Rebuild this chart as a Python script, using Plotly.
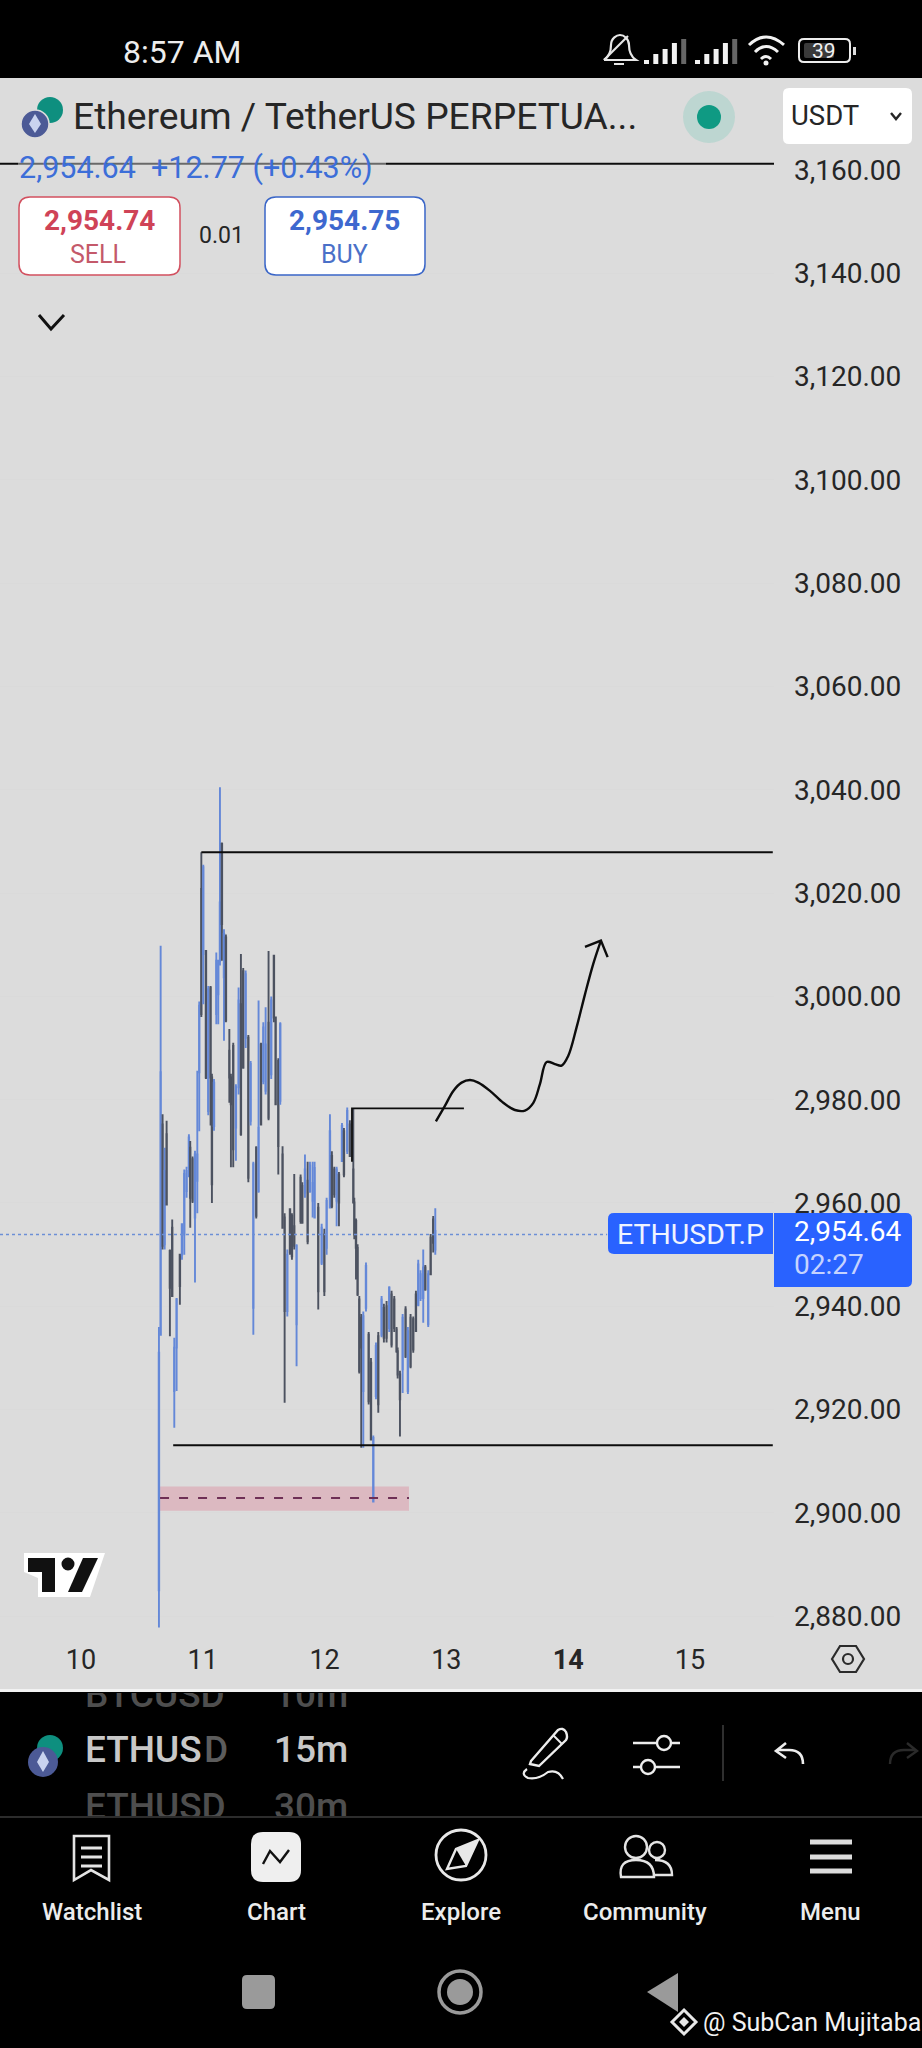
import re
import plotly.graph_objects as go

# ---------- candle data (day of month, OHLC) ----------
days = [10.640,10.654,10.670,10.687,10.703,10.730,10.749,10.766,10.785,10.812,10.829,10.848,10.867,10.886,10.897,10.916,10.936,10.955,10.971,10.988,
        11.004,11.026,11.045,11.064,11.075,11.092,11.111,11.127,11.141,11.157,11.174,11.190,11.218,11.231,11.250,11.272,11.294,11.313,11.332,11.352,
        11.374,11.393,11.415,11.439,11.458,11.478,11.497,11.516,11.540,11.562,11.584,11.598,11.620,11.636,11.655,11.672,11.694,11.716,11.732,11.751,
        11.770,11.803,11.817,11.839,11.861,11.880,11.902,11.918,11.948,11.976,11.998,12.017,12.044,12.060,12.080,12.099,12.118,12.143,12.159,12.186,
        12.208,12.236,12.244,12.258,12.271,12.285,12.301,12.318,12.340,12.362,12.381,12.400,12.422,12.441,12.468,12.487,12.509,12.531,12.550,12.572,
        12.591,12.600,12.619,12.641,12.665,12.684,12.706,12.728,12.750,12.769,12.788,12.810,12.827,12.851,12.871,12.892,12.909]
opens = [2885.0,2934.5,2975.2,2952.0,2973.3,2950.7,2955.2,2923.6,2932.0,2950.0,2950.0,2953.9,2962.3,2966.8,2970.7,2968.5,2957.2,2964.3,2985.3,3020.8,
         3008.2,3008.8,2977.8,3001.7,2984.3,2974.9,2996.6,3000.4,3006.9,3029.5,3003.7,3011.4,2989.5,2984.3,2990.4,2974.6,2982.4,2998.5,3004.9,2992.0,
         2992.0,2975.9,2939.7,2970.7,2962.3,2990.7,2983.6,2981.7,2994.9,2984.9,3007.9,2995.9,2987.5,2979.8,2969.4,2957.2,2939.1,2958.8,2957.5,2955.5,
         2936.5,2964.9,2963.3,2962.0,2964.3,2962.3,2960.4,2957.2,2959.1,2948.4,2953.9,2951.3,2959.1,2969.1,2966.5,2960.4,2965.5,2968.1,2973.9,2970.1,
         2975.2,2966.5,2960.1,2956.5,2951.3,2941.3,2937.8,2923.6,2939.7,2934.5,2929.1,2902.2,2922.6,2934.2,2934.5,2939.7,2940.0,2935.8,2942.3,2941.3,
         2935.5,2931.3,2926.8,2927.8,2939.4,2923.6,2937.8,2937.5,2942.3,2940.3,2941.6,2941.6,2947.5,2936.5,2953.3,2956.8,2951.0]
highs = [2936.0,3009.8,2977.2,2970.7,2975.9,2951.0,2956.8,2933.9,2941.6,2950.0,2956.0,2966.5,2967.0,2973.3,2972.0,2969.0,2970.1,2985.6,2999.0,3027.9,
         3025.5,3009.0,3002.0,3002.0,2985.0,2984.0,3008.5,3007.0,3040.5,3029.8,3013.0,3012.0,2993.7,2985.0,2991.0,2983.0,3001.7,3008.2,3005.5,3005.0,
         2992.5,2987.5,2968.0,2971.0,2999.2,2991.0,2995.0,2997.9,3008.8,3000.0,3008.0,2996.0,2988.0,2995.0,2971.0,2958.0,2951.0,2959.0,2958.0,2965.6,
         2952.0,2965.5,2964.0,2969.4,2968.0,2968.0,2968.0,2968.0,2960.0,2956.0,2955.0,2961.0,2977.2,2970.0,2967.0,2967.0,2966.0,2975.5,2974.5,2978.5,
         2976.0,2978.3,2961.0,2957.0,2952.0,2942.0,2938.5,2939.0,2948.5,2935.0,2930.0,2915.0,2933.0,2935.0,2942.0,2940.5,2941.0,2943.9,2943.0,2942.0,
         2936.0,2932.0,2927.5,2938.5,2940.0,2936.0,2938.5,2938.0,2943.0,2949.0,2947.0,2951.0,2948.0,2947.0,2954.0,2957.5,2959.0]
lows = [2877.8,2934.5,2951.0,2951.0,2959.7,2934.2,2942.0,2916.5,2923.6,2940.3,2949.0,2950.0,2961.0,2965.0,2955.2,2960.0,2944.6,2958.0,2973.9,2996.0,
        2998.5,2984.0,2977.0,2975.0,2960.0,2974.0,2994.6,2994.6,3006.0,3006.9,2991.4,2995.0,2979.4,2966.9,2966.9,2968.2,2981.0,2973.0,2986.0,2990.0,
        2964.0,2975.0,2934.5,2957.0,2962.0,2975.0,2983.0,2981.0,2976.0,2984.0,2995.0,2979.0,2965.5,2979.0,2955.0,2921.3,2938.0,2950.0,2949.0,2951.0,
        2928.4,2956.0,2956.0,2961.0,2952.0,2962.0,2957.2,2957.0,2939.4,2948.0,2942.0,2950.0,2959.0,2959.0,2961.0,2955.5,2955.5,2968.0,2965.0,2969.5,
        2969.0,2960.0,2953.0,2945.2,2942.0,2927.0,2912.6,2912.6,2939.0,2921.0,2914.0,2902.0,2922.0,2919.4,2934.0,2933.0,2933.0,2935.0,2932.0,2935.0,
        2931.0,2926.0,2914.8,2923.2,2930.0,2923.0,2928.0,2931.0,2935.0,2940.0,2941.0,2936.8,2943.0,2936.0,2946.0,2950.4,2950.0]
closes = [2931.0,2985.3,2951.7,2966.2,2959.7,2943.6,2942.0,2932.0,2941.3,2943.9,2955.9,2965.6,2966.2,2972.7,2961.0,2960.4,2969.4,2969.4,2998.2,2996.6,
          3025.0,2984.3,3001.4,2984.3,2963.6,2983.3,3006.9,3006.9,3018.2,3014.0,3012.1,2995.3,2984.3,2979.1,2970.4,2982.4,2999.2,2973.3,2986.2,3004.3,
          2964.9,2986.9,2967.5,2957.5,2974.6,2975.2,2994.0,2990.7,2976.5,2999.2,2995.9,2979.1,2971.0,2994.6,2955.2,2939.1,2950.0,2950.4,2949.7,2951.7,
          2951.7,2956.5,2956.2,2966.5,2952.6,2967.2,2963.9,2966.8,2942.9,2955.2,2942.9,2960.4,2973.9,2959.4,2961.7,2966.5,2960.1,2974.9,2965.5,2977.8,
          2969.1,2960.1,2953.9,2951.3,2942.3,2927.4,2932.0,2938.1,2947.8,2921.6,2914.2,2914.5,2932.3,2921.0,2941.3,2933.9,2933.9,2943.6,2932.6,2935.8,
          2931.3,2926.8,2922.0,2937.8,2930.3,2935.2,2928.4,2931.6,2935.2,2948.1,2946.2,2947.5,2943.3,2946.2,2946.2,2952.3,2954.6]

# ---------- drawn lines ----------
top_rule_day, top_rule_price = [9.335, 15.69], [3161.2, 3161.2]
res_day, res_price = [10.988, 15.68], [3027.9, 3027.9]
mid_day, mid_price = [12.225, 12.225, 13.144], [2968.0, 2978.3, 2978.3]
sup_day, sup_price = [10.757, 15.68], [2913.1, 2913.1]
last_day, last_price = [9.335, 14.32], [2953.9, 2953.9]
arrow_day = [12.914,12.988,13.057,13.125,13.194,13.262,13.358,13.467,13.563,13.645,13.714,13.768,13.823,13.891,13.946,14.001,14.069,14.138,14.206,14.269]
arrow_price = [2975.8,2978.8,2981.7,2983.3,2983.8,2983.3,2981.7,2979.4,2978.0,2977.9,2979.4,2983.0,2987.3,2986.9,2986.6,2988.5,2994.0,3000.4,3006.3,3010.8]
head_day, head_price = [14.138, 14.269, 14.324], [3009.6, 3010.8, 3007.6]
zone_day, zone_low, zone_high, zone_mid = [10.649, 12.693], 2900.4, 2905.1, 2902.9

price_ticks = [2880,2900,2920,2940,2960,2980,3000,3020,3040,3060,3080,3100,3120,3140,3160]
day_ticks = [10,11,12,13,14,15]
day_labels = ["10","11","12","13","<b>14</b>","15"]

W, H = 922, 2048
def px(x): return x / W
def py(y): return 1 - y / H

BG = "#dcdcdc"
INK = "#262626"
BLUE = "#2962ff"

shapes, notes = [], []
def rect(x0, y0, x1, y1, fill=None, line=None, lw=0, layer="above"):
    shapes.append(dict(type="rect", xref="paper", yref="paper", x0=px(x0), x1=px(x1), y0=py(y0), y1=py(y1),
                       fillcolor=fill or "rgba(0,0,0,0)", line=dict(color=line or "rgba(0,0,0,0)", width=lw), layer=layer))
def circ(cx, cy, r, fill=None, line=None, lw=0):
    shapes.append(dict(type="circle", xref="paper", yref="paper", x0=px(cx-r), x1=px(cx+r), y0=py(cy-r), y1=py(cy+r),
                       fillcolor=fill or "rgba(0,0,0,0)", line=dict(color=line or "rgba(0,0,0,0)", width=lw), layer="above"))
def path(d, fill=None, line=None, lw=0):
    toks = re.findall(r"[MLCQZ]|-?\d+\.?\d*", d)
    out, buf = [], []
    for t in toks:
        if t in "MLCQZ":
            out.append(t)
        else:
            buf.append(float(t))
            if len(buf) == 2:
                out.append(f"{px(buf[0]):.5f},{py(buf[1]):.5f}")
                buf = []
    shapes.append(dict(type="path", xref="paper", yref="paper", path=" ".join(out),
                       fillcolor=fill or "rgba(0,0,0,0)", line=dict(color=line or "rgba(0,0,0,0)", width=lw), layer="above"))
def rrect(x0, y0, x1, y1, r, fill=None, line=None, lw=0):
    path(f"M {x0+r} {y0} L {x1-r} {y0} Q {x1} {y0} {x1} {y0+r} L {x1} {y1-r} Q {x1} {y1} {x1-r} {y1} "
         f"L {x0+r} {y1} Q {x0} {y1} {x0} {y1-r} L {x0} {y0+r} Q {x0} {y0} {x0+r} {y0} Z", fill, line, lw)
def text(x, y, s, size, color=INK, anchor="left", family="Roboto"):
    notes.append(dict(xref="paper", yref="paper", x=px(x), y=py(y), text=s, showarrow=False, xanchor=anchor, yanchor="middle",
                      font=dict(family=family, size=size, color=color), borderpad=0, borderwidth=0))

# panel
rect(0, 78, W, 1689, fill=BG, layer="below")
rect(0, 1689, W, 1692, fill="#f2f2f2", layer="below")

# --- status bar ---
text(123, 52, "8:57 AM", 32, "#ededed")
path("M 604 60 C 610 56 611 50 611 45 C 611 38 617 35 620 35 C 624 35 629 39 629 45 C 629 50 630 56 636 60 L 604 60", None, "#e6e6e6", 2.2)
path("M 604 60 L 628 36", None, "#e6e6e6", 2.2)
rect(614, 63, 624, 65, fill="#e6e6e6")
for x0 in (644, 695):
    for i, top in enumerate((60, 54, 49, 43, 39)):
        rect(x0 + i * 9.3, top, x0 + i * 9.3 + 5, 64, fill="#f2f2f2" if i < 4 else "#666666")
path("M 749 45 Q 766 29 784 45", None, "#f2f2f2", 3)
path("M 755 52 Q 766 41 778 52", None, "#f2f2f2", 3)
path("M 761 59 Q 766 54 771 59", None, "#f2f2f2", 3)
circ(766, 63, 2.5, fill="#f2f2f2")
rrect(799, 39, 850, 62, 5, None, "#ededed", 2)
rrect(804, 43, 834, 58, 2, "#3a3a3a")
text(824, 51, "39", 21, "#f2f2f2", "center")
rect(853, 47, 856, 55, fill="#dddddd")

# --- header ---
circ(50, 110, 13, fill="#0e8f7f")
circ(35, 124, 14, fill="#4c5a96", line=BG, lw=1.5)
path("M 35 114 L 41 124 L 35 133 L 29 124 Z", "#c9d3ef")
text(73, 116, "Ethereum / TetherUS PERPETUA...", 37.2, INK)
circ(709, 117, 26, fill="#bdd6d1")
circ(709, 117, 12, fill="#0f9a83")
rrect(783, 88, 912, 144, 6, "#ffffff")
text(791, 115, "USDT", 27.5, INK)
path("M 891 113 L 896 119 L 901 113", None, INK, 2.4)
rect(18, 148, 386, 190, fill="rgba(220,220,220,0.45)")
text(19, 168, "2,954.64  +12.77 (+0.43%)", 30.5, "#3c6ed8")
rrect(19, 197, 180, 275, 11, "#ffffff", "#d2505f", 1.5)
text(99, 220, "<b>2,954.74</b>", 28, "#cf4357", "center")
text(98, 254, "SELL", 25, "#c4596a", "center")
text(221, 235, "0.01", 23, INK, "center")
rrect(265, 197, 425, 275, 11, "#ffffff", "#3a66c8", 1.5)
text(344, 220, "<b>2,954.75</b>", 28, "#3d68cf", "center")
text(344, 254, "BUY", 25, "#4a70c8", "center")
path("M 39 315 L 51 329 L 64 315", None, "#111111", 3)

# --- price tag ---
path("M 614 1213 L 773 1213 L 773 1254 L 614 1254 Q 608 1254 608 1248 L 608 1219 Q 608 1213 614 1213 Z", BLUE)
path("M 774 1213 L 906 1213 Q 912 1213 912 1219 L 912 1281 Q 912 1287 906 1287 L 774 1287 Z", BLUE)
text(690, 1234, "ETHUSDT.P", 28.5, "#f0f4ff", "center")
text(794, 1231, "2,954.64", 28, "#ffffff")
text(794, 1264, "02:27", 28, "#c5d3ff")

# --- TradingView logo ---
path("M 24 1553 L 105 1553 L 90 1597 L 38 1597 L 38 1578 L 24 1572 Z", "#ffffff")
path("M 28 1558 L 55 1558 L 55 1592 L 42 1592 L 42 1572 L 28 1572 Z", "#111111")
circ(68, 1564, 6.5, fill="#111111")
path("M 83 1558 L 98 1558 L 82 1592 L 68 1592 Z", "#111111")

# --- settings hex ---
path("M 832 1659 L 840 1646 L 856 1646 L 864 1659 L 856 1672 L 840 1672 Z", None, "#2b2b2b", 2.2)
circ(848, 1659, 5, None, "#2b2b2b", 2.2)

# --- toolbar ---
circ(50, 1748, 13, fill="#0e8f7f")
circ(43, 1762, 15, fill="#4c5a96")
path("M 43 1751 L 49 1762 L 43 1772 L 37 1762 Z", "#c9d3ef")
path("M 531 1761 L 558 1730 Q 563 1727 566 1732 Q 568 1737 566 1740 L 539 1766 L 530 1764 Z", None, "#ededed", 2.4)
path("M 553 1735 L 562 1744", None, "#ededed", 2)
path("M 563 1779 Q 558 1769 548 1772 Q 538 1780 528 1778 Q 520 1774 527 1769", None, "#ededed", 2.2)
path("M 633 1743 L 680 1743", None, "#ededed", 2.6)
path("M 633 1767 L 680 1767", None, "#ededed", 2.6)
circ(664, 1743, 7, "#000000", "#ededed", 2.4)
circ(648, 1767, 7, "#000000", "#ededed", 2.4)
path("M 723 1725 L 723 1781", None, "#2f2f2f", 2)
path("M 803 1764 Q 803 1750 789 1750 L 777 1750 M 786 1743 L 776 1751 L 786 1758", None, "#ededed", 2.6)
path("M 890 1764 Q 890 1750 904 1750 L 916 1750 M 907 1743 L 917 1751 L 907 1758", None, "#2a2a2a", 2.4)
rect(0, 1816, W, 1818, fill="#2c2c2c")

# --- nav ---
path("M 74 1836 L 109 1836 L 109 1880 L 91 1870 L 74 1880 Z", None, "#e4e4e4", 2.6)
for y in (1848, 1857, 1866):
    rect(81, y - 1.5, 102, y + 1.5, fill="#e4e4e4")
rrect(251, 1832, 301, 1882, 12, "#efefef")
path("M 263 1864 L 270 1851 L 280 1862 L 289 1850", None, "#111111", 2.4)
circ(461, 1855, 25, None, "#e8e8e8", 2.8)
path("M 478 1840 L 466 1866 L 447 1869 L 456 1849 Z", None, "#e8e8e8", 2.4)
path("M 478 1840 L 456 1849 L 466 1866 Z", "#e8e8e8")
circ(636, 1847, 11, None, "#e4e4e4", 2.4)
circ(657, 1850, 8, None, "#e4e4e4", 2.4)
path("M 621 1877 Q 618 1860 636 1860 Q 654 1860 654 1877 Z", None, "#e4e4e4", 2.4)
path("M 655 1860 Q 672 1860 672 1875 L 654 1875", None, "#e4e4e4", 2.4)
for y in (1842, 1857, 1871):
    rect(810, y - 2.5, 852, y + 2.5, fill="#dcdcdc")
for x, label in zip((92, 276, 461, 645, 830), ("Watchlist", "Chart", "Explore", "Community", "Menu")):
    text(x, 1912, label, 24, "#ececec", "center", "Roboto Medium, Roboto")

# --- android nav ---
rrect(242, 1975, 275, 2009, 5, "#9a9a9a")
circ(460, 1992, 21, None, "#9a9a9a", 3.5)
circ(460, 1992, 13, fill="#9a9a9a")
path("M 647 1992 L 678 1973 L 678 2012 Z", "#9a9a9a")
path("M 684 2010 L 696 2022 L 684 2034 L 672 2022 Z", None, "#e8e8e8", 3)
path("M 684 2017 L 689 2022 L 684 2027 L 679 2022 Z", "#e8e8e8")
text(703, 2022, "@ SubCan Mujitaba", 25, "#f2f2f2")

# --- traces ---
fig = go.Figure()
fig.add_trace(go.Candlestick(x=days, open=opens, high=highs, low=lows, close=closes,
                             increasing=dict(line=dict(color="#6488d8", width=1.9), fillcolor="#6488d8"),
                             decreasing=dict(line=dict(color="#4c5260", width=1.9), fillcolor="#4c5260"),
                             whiskerwidth=0, showlegend=False, hoverinfo="skip"))
def line(x, y, color="#0c0c0c", width=2, dash=None, shape="linear"):
    fig.add_trace(go.Scatter(x=x, y=y, mode="lines", showlegend=False, hoverinfo="skip",
                             line=dict(color=color, width=width, dash=dash, shape=shape)))
line(last_day, last_price, "#6c8fd6", 1.5, "dot")
line(top_rule_day, top_rule_price)
line(res_day, res_price)
line(mid_day, mid_price, width=1.8)
line(sup_day, sup_price)
line(arrow_day, arrow_price, "#0c0c0c", 2.4, shape="spline")
line(head_day, head_price, "#0c0c0c", 2.4)
line(zone_day, [zone_mid, zone_mid], "#6e2f55", 2, "9px,10px")

shapes.append(dict(type="rect", xref="x", yref="y", x0=zone_day[0], x1=zone_day[1], y0=zone_low, y1=zone_high,
                   fillcolor="rgba(222,130,150,0.38)", line=dict(width=0), layer="below"))

# picker rows, clipped by their own subplot
def row(x, y, s, size, color):
    fig.add_trace(go.Scatter(x=[x], y=[y], mode="text", text=[s], textposition="middle right", xaxis="x2", yaxis="y2",
                             textfont=dict(family="Roboto Medium, Roboto", size=size, color=color), showlegend=False, hoverinfo="skip"))
row(85, 1698, "BTCUSD", 37, "#4e4e4e")
row(274, 1698, "10m", 37, "#4e4e4e")
row(85, 1753, "ETHUS", 37, "#c8c8c8")
row(204, 1753, "D", 37, "#5c5c5c")
row(274, 1753, "15m", 37, "#c8c8c8")
row(85, 1810, "ETHUSD", 37, "#4e4e4e")
row(274, 1810, "30m", 37, "#4e4e4e")

fig.update_layout(
    width=W, height=H, margin=dict(l=0, r=0, t=0, b=0), autosize=False,
    paper_bgcolor="#000000", plot_bgcolor="rgba(0,0,0,0)", showlegend=False,
    shapes=shapes, annotations=notes,
    font=dict(family="Roboto", color=INK),
    xaxis=dict(domain=[0, 774 / W], range=[9.335, 15.69], tickmode="array", tickvals=day_ticks, ticktext=day_labels,
               rangeslider=dict(visible=False), showgrid=False, zeroline=False, showline=False, ticks="", ticklen=0,
               ticklabelstandoff=4, tickfont=dict(family="Roboto", size=27, color=INK), fixedrange=True),
    yaxis=dict(domain=[1 - 1637 / H, 1 - 78 / H], range=[2875.97, 3177.81], side="right", tickmode="array", tickvals=price_ticks,
               tickformat=",.2f", showgrid=True, gridcolor="#dadada", gridwidth=1, zeroline=False, showline=False, ticks="", ticklen=0,
               ticklabelstandoff=19, tickfont=dict(family="Roboto", size=28, color=INK), fixedrange=True),
    xaxis2=dict(domain=[0, 1], range=[0, W], visible=False, anchor="y2", fixedrange=True),
    yaxis2=dict(domain=[1 - 1816 / H, 1 - 1693 / H], range=[1816, 1693], visible=False, anchor="x2", fixedrange=True),
)
fig.write_html("out.html", config=dict(displayModeBar=False),
               post_script="document.body.style.margin='0';document.documentElement.style.overflow='hidden';")
